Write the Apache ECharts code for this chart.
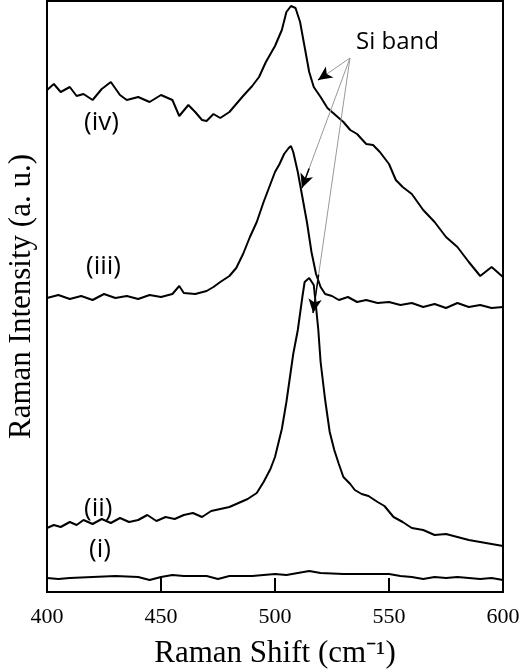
<!DOCTYPE html>
<html><head><meta charset="utf-8">
<script src="https://cdn.jsdelivr.net/npm/echarts@6/dist/echarts.min.js"></script>
<style>html,body{margin:0;padding:0;background:#fff}#c{width:520px;height:672px}</style>
</head><body><div id="c"></div>
<script>
const xI   = [400,405,410,420,430,440,445,450,455,460,470,475,480,490,500,505,510,515,520,530,540,550,555,560,565,570,575,580,590,595,600];
const yI   = [14,13,14,15,16,15,12,15,17,16,16,13,16,16,18,17,19,21,19,18,18,18,16,15,13,15,14,15,13,14,12];
const xII  = [400,403,406,410,413,416,420,424,428,432,436,440,444,448,452,456,460,464,468,472,476,480,484,488,492,495,498,500,503,505,508,510,512,513,515,517,518,519,520,522,524,526,528,530,533,535,538,541,545,548,552,556,560,565,570,575,580,585,590,595,600];
const yII  = [64,67,65,70,67,72,68,73,69,74,70,72,77,71,75,73,77,79,75,81,83,85,89,93,99,110,123,135,163,190,238,262,295,310,314,307,285,262,230,192,160,142,128,115,108,102,98,96,90,86,75,70,64,62,57,58,55,52,50,48,46];
const xIII = [400,405,410,415,420,425,430,435,440,445,450,455,458,460,465,470,473,476,480,483,486,489,492,495,498,500,502,504,506,507,508,510,512,514,516,518,520,522,525,528,532,536,540,545,550,555,560,565,570,575,580,585,590,595,600];
const yIII = [294,297,293,296,292,298,294,296,293,297,295,298,306,299,298,301,305,310,316,324,338,355,370,390,408,420,428,438,444,446,440,420,395,370,340,318,305,298,296,292,295,290,292,289,290,287,289,285,288,284,289,285,287,284,285];
const xIV  = [400,403,406,410,413,416,420,424,428,432,435,440,445,450,455,458,462,465,468,470,473,476,480,483,486,490,493,496,500,503,505,507,509,511,513,515,517,520,523,526,530,533,536,540,543,546,550,553,556,560,565,570,575,580,585,590,595,600];
const yIV  = [502,508,500,505,496,498,492,503,510,497,492,495,490,497,492,476,487,480,472,471,478,474,480,488,496,506,515,530,546,562,580,586,584,570,545,520,505,495,484,478,470,462,458,448,447,440,428,412,405,398,382,370,355,345,330,316,325,315];
const annotText = "Si band";
const curveLabels = ["(iv)","(iii)","(ii)","(i)"];

const pair = (xs, ys) => xs.map((x,i)=>[x, ys[i]]);
const start = [532.9, 534];
const ends = [[518.9,512],[511.8,404],[516.7,279]];
const mid = e => [e[0]+(start[0]-e[0])*0.15, e[1]+(start[1]-e[1])*0.15];
const lineStyle = {color:'#000', width:2};
const mk = d => ({type:'line', data:d, showSymbol:false, lineStyle, silent:true});

const chart = echarts.init(document.getElementById('c'));
chart.setOption({
  animation:false,
  grid:{left:47,right:17,top:1,bottom:80,containLabel:false,outerBoundsMode:'none',show:true,borderColor:'#000',borderWidth:2},
  xAxis:{type:'value',min:400,max:600,interval:50,
    axisLine:{lineStyle:{color:'#000',width:2}},
    axisTick:{inside:true,length:14,lineStyle:{color:'#000',width:2}},
    splitLine:{show:false},
    axisLabel:{color:'#000',fontFamily:'Liberation Serif',fontSize:22,margin:14},
    name:'Raman Shift (cm⁻¹)',nameLocation:'middle',nameGap:46,
    nameTextStyle:{color:'#000',fontFamily:'Liberation Serif',fontSize:31}},
  yAxis:{type:'value',min:0,max:591,show:true,axisLabel:{show:false},axisTick:{show:false},
    splitLine:{show:false},axisLine:{lineStyle:{color:'#000',width:2}},
    name:'Raman Intensity (a. u.)',nameLocation:'middle',nameGap:10,
    nameTextStyle:{color:'#000',fontFamily:'Liberation Serif',fontSize:31}},
  series:[
    mk(pair(xI,yI)), mk(pair(xII,yII)), mk(pair(xIII,yIII)), mk(pair(xIV,yIV)),
    {type:'line',data:[],silent:true,markLine:{silent:true,symbol:['none','none'],
      lineStyle:{color:'#999',width:1,type:'solid'},label:{show:false},
      data:ends.map(e=>[{coord:start},{coord:e}])}},
    {type:'line',data:[],silent:true,markLine:{silent:true,symbol:['none','arrow'],symbolSize:[10,14],
      lineStyle:{color:'#000',width:1.5,type:'solid'},label:{show:false},
      data:ends.map(e=>[{coord:mid(e)},{coord:e}])}}
  ],
  graphic:[
    {type:'text',left:356,top:30,style:{text:annotText,font:'24px "Open Sans"',fill:'#000'}},
    {type:'text',left:84,top:110,style:{text:curveLabels[0],font:'26px "Open Sans"',fill:'#000'}},
    {type:'text',left:86,top:254,style:{text:curveLabels[1],font:'26px "Open Sans"',fill:'#000'}},
    {type:'text',left:84,top:496,style:{text:curveLabels[2],font:'26px "Open Sans"',fill:'#000'}},
    {type:'text',left:89,top:537,style:{text:curveLabels[3],font:'26px "Open Sans"',fill:'#000'}}
  ]
});
</script></body></html>
